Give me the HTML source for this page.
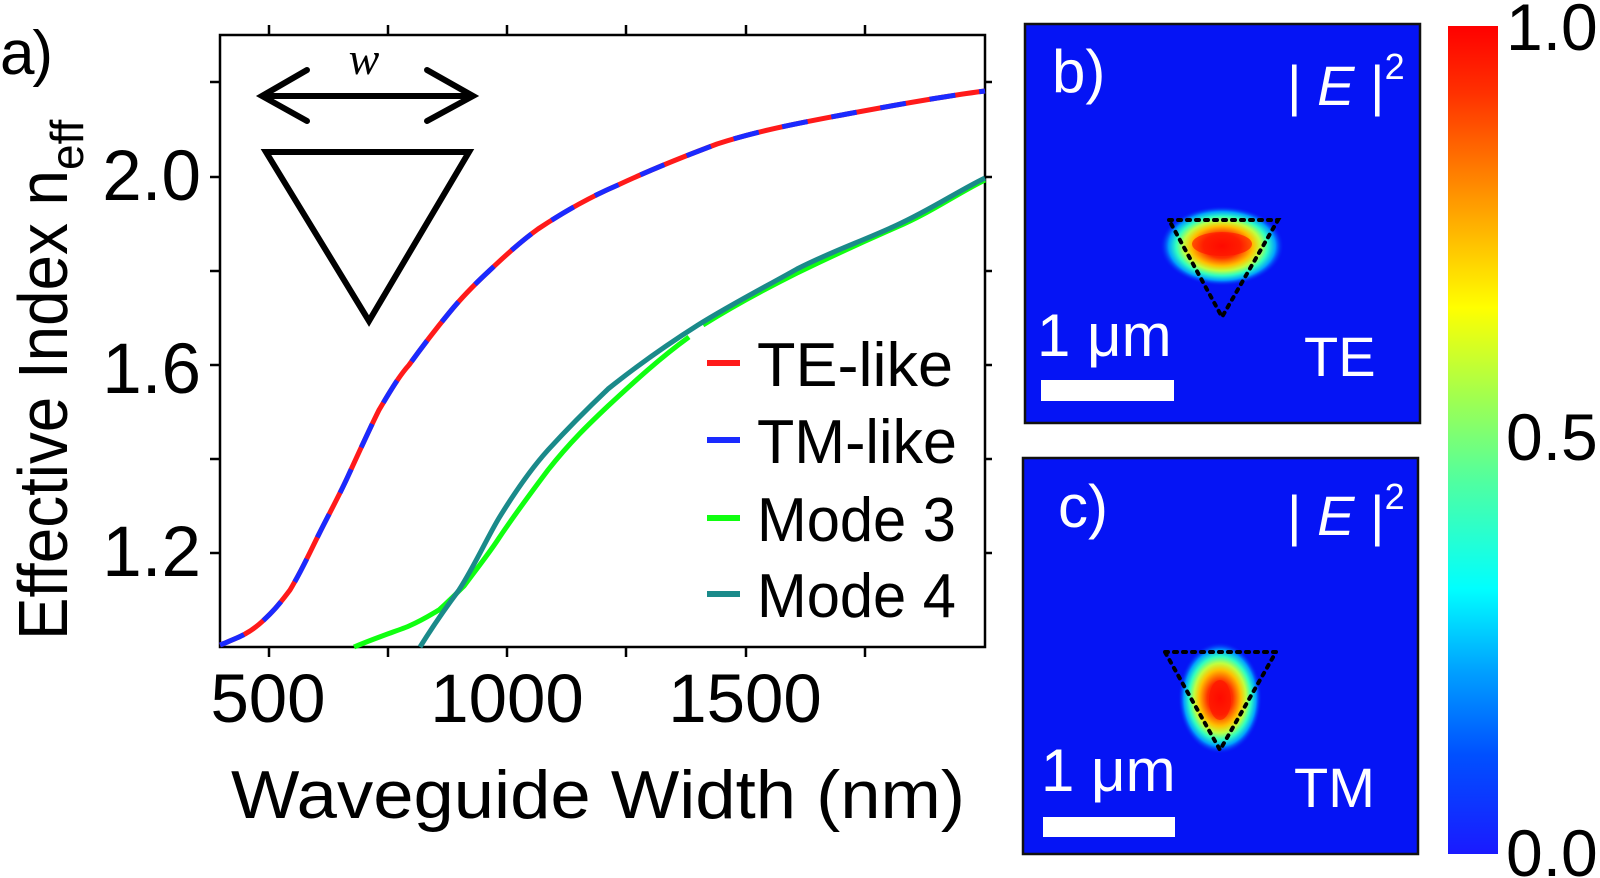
<!DOCTYPE html>
<html><head><meta charset="utf-8"><style>
html,body{margin:0;padding:0;background:#fff;}
svg{display:block;}
text{font-family:"Liberation Sans",sans-serif;}
</style></head><body>
<svg width="1600" height="878" viewBox="0 0 1600 878" xmlns="http://www.w3.org/2000/svg">
<defs>
<linearGradient id="jet" x1="0" y1="1" x2="0" y2="0">
<stop offset="0" stop-color="#1a1aff"/>
<stop offset="0.12" stop-color="#0050ff"/>
<stop offset="0.22" stop-color="#00a0ff"/>
<stop offset="0.32" stop-color="#00ffff"/>
<stop offset="0.45" stop-color="#50ffa0"/>
<stop offset="0.55" stop-color="#a0ff50"/>
<stop offset="0.66" stop-color="#ffff00"/>
<stop offset="0.8" stop-color="#ff9000"/>
<stop offset="0.92" stop-color="#ff3000"/>
<stop offset="1" stop-color="#ff0000"/>
</linearGradient>
<radialGradient id="fld">
<stop offset="0" stop-color="#ff0000"/>
<stop offset="0.3" stop-color="#ff3000"/>
<stop offset="0.5" stop-color="#ffc000"/>
<stop offset="0.62" stop-color="#c0ff40"/>
<stop offset="0.74" stop-color="#30ffc0"/>
<stop offset="0.86" stop-color="#00a0ff"/>
<stop offset="1" stop-color="#0514f5" stop-opacity="0"/>
</radialGradient>
</defs>

<!-- Panel a -->
<text x="0" y="74" font-size="62" textLength="53">a)</text>
<rect x="220" y="35" width="765" height="612" fill="none" stroke="#000" stroke-width="2.5"/>
<g stroke="#000" stroke-width="2.5">
<line x1="269" y1="647" x2="269" y2="657"/><line x1="388" y1="647" x2="388" y2="657"/><line x1="507" y1="647" x2="507" y2="657"/><line x1="626" y1="647" x2="626" y2="657"/><line x1="746" y1="647" x2="746" y2="657"/><line x1="865" y1="647" x2="865" y2="657"/>
<line x1="269" y1="35" x2="269" y2="25"/><line x1="388" y1="35" x2="388" y2="25"/><line x1="507" y1="35" x2="507" y2="25"/><line x1="626" y1="35" x2="626" y2="25"/><line x1="746" y1="35" x2="746" y2="25"/><line x1="865" y1="35" x2="865" y2="25"/>
<line x1="220" y1="82" x2="210" y2="82"/><line x1="220" y1="177" x2="210" y2="177"/><line x1="220" y1="271" x2="210" y2="271"/><line x1="220" y1="365" x2="210" y2="365"/><line x1="220" y1="459" x2="210" y2="459"/><line x1="220" y1="553" x2="210" y2="553"/>
<line x1="985" y1="82" x2="992" y2="82"/><line x1="985" y1="177" x2="992" y2="177"/><line x1="985" y1="271" x2="992" y2="271"/><line x1="985" y1="365" x2="992" y2="365"/><line x1="985" y1="459" x2="992" y2="459"/><line x1="985" y1="553" x2="992" y2="553"/>
</g>
<g font-size="69" text-anchor="middle">
<text x="268" y="722">500</text><text x="507" y="722">1000</text><text x="745" y="722">1500</text>
</g>
<g font-size="71" text-anchor="end">
<text x="201" y="200">2.0</text><text x="201" y="393">1.6</text><text x="201" y="576">1.2</text>
</g>
<text x="231" y="818" font-size="68" textLength="734" lengthAdjust="spacingAndGlyphs">Waveguide Width (nm)</text>
<text transform="translate(67,640) rotate(-90)" font-size="70"><tspan textLength="470" lengthAdjust="spacingAndGlyphs">Effective Index n</tspan><tspan font-size="46" dy="16">eff</tspan></text>

<g stroke="#000" stroke-width="6" fill="none" stroke-linecap="round" stroke-linejoin="miter">
<line x1="264" y1="96" x2="472" y2="96"/>
<polyline points="307,70 262,96 307,121"/>
<polyline points="427,70 473,96 427,121"/>
<polygon points="266,152 469,152 369,321"/>
</g>
<text x="364" y="74" font-size="46" font-style="italic" text-anchor="middle" style="font-family:'Liberation Serif',serif">w</text>

<g fill="none" stroke-width="5" stroke-linecap="butt">
<path stroke="#10ff10" d="M354,647 C380,636 400,630 409,626 C425,619 435,612 439,610 C450,600 458,592 464,586 C478,567 490,552 499,538 C515,514 530,494 548,470 C570,442 590,423 608,406 C635,381 660,358 689,337"/>
<path stroke="#10ff10" d="M703,325 C735,305 765,289 797,273 C830,257 865,241 897,227 C930,213 960,192 985,180"/>
<path stroke="#1a8a8a" d="M420,647 C438,618 450,602 459,590 C475,565 487,538 499,518 C515,492 530,470 548,450 C568,428 588,408 608,389 C638,365 668,344 698,325 C730,305 765,287 797,269 C830,252 865,240 897,225 C930,210 960,190 985,178"/>
<path stroke="#ff1a1a" d="M220,645 C232,640 240,637 245,634 C256,628 264,620 270,614 C278,606 284,598 290,590 C302,570 310,552 319,534 C330,512 340,494 349,474 C360,450 370,428 379,410 C392,388 400,375 409,365 C422,347 435,330 449,313 C462,297 475,284 489,271 C505,256 520,242 538,229 C565,211 590,197 618,185 C650,170 685,156 717,144 C760,130 805,122 847,114 C890,106 945,96 985,91"/>
<path stroke="#1a2aff" stroke-dasharray="26 24" d="M220,645 C232,640 240,637 245,634 C256,628 264,620 270,614 C278,606 284,598 290,590 C302,570 310,552 319,534 C330,512 340,494 349,474 C360,450 370,428 379,410 C392,388 400,375 409,365 C422,347 435,330 449,313 C462,297 475,284 489,271 C505,256 520,242 538,229 C565,211 590,197 618,185 C650,170 685,156 717,144 C760,130 805,122 847,114 C890,106 945,96 985,91"/>
</g>
<g stroke-width="6">
<line x1="707" y1="363" x2="740" y2="363" stroke="#ff1a1a"/>
<line x1="707" y1="440" x2="740" y2="440" stroke="#1a2aff"/>
<line x1="707" y1="518" x2="740" y2="518" stroke="#10ff10"/>
<line x1="707" y1="594" x2="740" y2="594" stroke="#1a8a8a"/>
</g>
<g font-size="62">
<text x="757" y="386" textLength="196" lengthAdjust="spacingAndGlyphs">TE-like</text>
<text x="757" y="463" textLength="200" lengthAdjust="spacingAndGlyphs">TM-like</text>
<text x="757" y="541" textLength="199" lengthAdjust="spacingAndGlyphs">Mode 3</text>
<text x="757" y="617" textLength="199" lengthAdjust="spacingAndGlyphs">Mode 4</text>
</g>

<!-- Panel b -->
<rect x="1025" y="24" width="395" height="399" fill="#0514f5" stroke="#111" stroke-width="2.5"/>
<ellipse cx="1222" cy="246" rx="62" ry="40" fill="url(#fld)"/>
<ellipse cx="1222" cy="244" rx="30" ry="12" fill="#ff1000" opacity="0.6"/>
<polygon points="1169,220 1278,220 1222,317" fill="none" stroke="#000" stroke-width="4" stroke-dasharray="3 6" stroke-linecap="round"/>
<g fill="#fff" font-size="60">
<text x="1052" y="92">b)</text>
<text x="1287" y="105" font-size="56">| <tspan font-style="italic">E</tspan> |<tspan font-size="36" dy="-26">2</tspan></text>
<text x="1037" y="356">1 μm</text>
<text x="1304" y="376" font-size="56">TE</text>
</g>
<rect x="1041" y="380" width="133" height="21" fill="#fff"/>

<!-- Panel c -->
<rect x="1023" y="458" width="395" height="396" fill="#0514f5" stroke="#111" stroke-width="2.5"/>
<ellipse cx="1220" cy="698" rx="42" ry="56" fill="url(#fld)"/>
<ellipse cx="1220" cy="700" rx="11" ry="20" fill="#ff1000" opacity="0.6"/>
<polygon points="1165,652 1276,652 1220,750" fill="none" stroke="#000" stroke-width="4" stroke-dasharray="3 6" stroke-linecap="round"/>
<g fill="#fff" font-size="60">
<text x="1058" y="527">c)</text>
<text x="1287" y="535" font-size="56">| <tspan font-style="italic">E</tspan> |<tspan font-size="36" dy="-26">2</tspan></text>
<text x="1041" y="791">1 μm</text>
<text x="1294" y="807" font-size="56">TM</text>
</g>
<rect x="1043" y="817" width="132" height="20" fill="#fff"/>

<!-- colorbar -->
<rect x="1448" y="26" width="50" height="828" fill="url(#jet)"/>
<g font-size="66">
<text x="1506" y="50">1.0</text>
<text x="1506" y="460">0.5</text>
<text x="1506" y="876">0.0</text>
</g>
</svg>
</body></html>
